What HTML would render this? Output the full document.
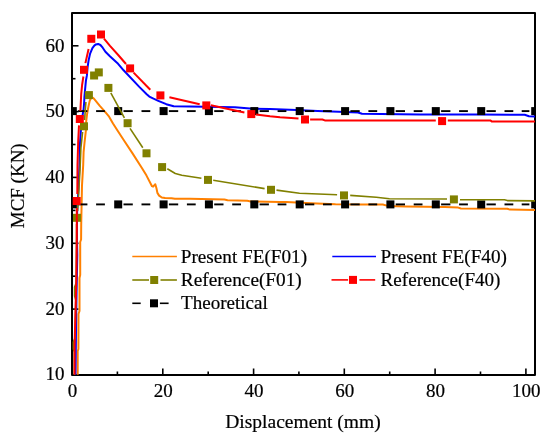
<!DOCTYPE html>
<html><head><meta charset="utf-8"><title>MCF vs Displacement</title>
<style>html,body{margin:0;padding:0;background:#fff;}svg{display:block;}</style>
</head><body>
<svg width="550" height="441" viewBox="0 0 550 441">
<defs><clipPath id="clipPlot"><rect x="72.0" y="13.0" width="463.0" height="362.0"/></clipPath></defs>
<rect width="550" height="441" fill="#fff"/>
<g>
<rect x="72.0" y="13.0" width="463.0" height="362.0" fill="none" stroke="#000" stroke-width="2" stroke-linejoin="round"/>
<line x1="72.0" y1="375.0" x2="72.0" y2="368.5" stroke="#000" stroke-width="1.6"/>
<line x1="117.4" y1="375.0" x2="117.4" y2="371.5" stroke="#000" stroke-width="1.6"/>
<line x1="162.8" y1="375.0" x2="162.8" y2="368.5" stroke="#000" stroke-width="1.6"/>
<line x1="208.2" y1="375.0" x2="208.2" y2="371.5" stroke="#000" stroke-width="1.6"/>
<line x1="253.6" y1="375.0" x2="253.6" y2="368.5" stroke="#000" stroke-width="1.6"/>
<line x1="298.9" y1="375.0" x2="298.9" y2="371.5" stroke="#000" stroke-width="1.6"/>
<line x1="344.3" y1="375.0" x2="344.3" y2="368.5" stroke="#000" stroke-width="1.6"/>
<line x1="389.7" y1="375.0" x2="389.7" y2="371.5" stroke="#000" stroke-width="1.6"/>
<line x1="435.1" y1="375.0" x2="435.1" y2="368.5" stroke="#000" stroke-width="1.6"/>
<line x1="480.5" y1="375.0" x2="480.5" y2="371.5" stroke="#000" stroke-width="1.6"/>
<line x1="525.9" y1="375.0" x2="525.9" y2="368.5" stroke="#000" stroke-width="1.6"/>
<line x1="72.0" y1="375.0" x2="78.5" y2="375.0" stroke="#000" stroke-width="1.6"/>
<line x1="72.0" y1="342.1" x2="75.5" y2="342.1" stroke="#000" stroke-width="1.6"/>
<line x1="72.0" y1="309.1" x2="78.5" y2="309.1" stroke="#000" stroke-width="1.6"/>
<line x1="72.0" y1="276.2" x2="75.5" y2="276.2" stroke="#000" stroke-width="1.6"/>
<line x1="72.0" y1="243.3" x2="78.5" y2="243.3" stroke="#000" stroke-width="1.6"/>
<line x1="72.0" y1="210.4" x2="75.5" y2="210.4" stroke="#000" stroke-width="1.6"/>
<line x1="72.0" y1="177.4" x2="78.5" y2="177.4" stroke="#000" stroke-width="1.6"/>
<line x1="72.0" y1="144.5" x2="75.5" y2="144.5" stroke="#000" stroke-width="1.6"/>
<line x1="72.0" y1="111.6" x2="78.5" y2="111.6" stroke="#000" stroke-width="1.6"/>
<line x1="72.0" y1="78.7" x2="75.5" y2="78.7" stroke="#000" stroke-width="1.6"/>
<line x1="72.0" y1="45.8" x2="78.5" y2="45.8" stroke="#000" stroke-width="1.6"/>
</g>
<g clip-path="url(#clipPlot)">
<polyline points="77.7,374.7 77.7,351.0 78.4,349.0 78.5,314.0 79.5,311.0 79.5,278.0 80.2,275.0 80.2,242.0 81.1,239.5 81.2,225.0 81.4,215.0 82.0,185.4 83.2,165.0 83.6,152.2 84.5,143.0 85.9,130.4 86.2,121.3 87.1,114.0 88.4,106.8 89.8,100.4 91.2,98.0 92.5,97.6 93.9,98.6 99.8,105.9 104.5,111.1 109.1,116.7 113.0,123.5 117.0,129.8 123.2,139.2 132.7,153.6 142.2,168.5 146.5,175.6 152.0,186.2 153.1,186.7 155.3,184.2 156.4,188.0 157.4,192.9 159.1,195.6 161.8,197.5 165.1,198.1 171.6,198.3 174.9,198.7 190.0,198.7 224.4,199.5 227.6,200.3 247.3,200.8 250.6,201.4 280.0,201.9 286.4,202.1 310.9,203.2 335.5,204.2 360.0,204.5 382.8,204.5 387.7,205.9 405.7,206.5 445.0,207.0 458.2,207.6 460.9,208.5 507.3,208.7 510.0,209.6 535.0,210.0" fill="none" stroke="#FF8000" stroke-width="2.0" stroke-linejoin="round" stroke-linecap="butt" />
<polyline points="75.5,374.7 76.2,315.0 76.6,290.0 77.3,255.0 77.0,240.0 77.0,215.0 78.4,190.0 79.5,165.0 80.0,143.0 80.9,130.4 82.0,121.0 82.7,114.5 83.6,109.5 84.2,101.8 84.4,97.0 85.0,90.3 85.9,80.8 86.9,75.4 87.6,67.2 88.6,60.4 90.1,53.6 92.4,48.2 94.3,45.6 95.9,44.4 98.1,43.9 100.4,45.0 102.7,47.7 105.4,51.8 109.9,56.2 118.1,63.8 123.6,70.3 139.3,86.9 146.7,94.2 149.3,96.6 153.5,98.7 158.3,100.8 166.3,104.2 173.7,106.3 190.0,106.6 235.0,107.2 250.0,108.6 270.0,108.9 296.2,110.1 317.5,110.9 338.7,111.7 358.0,112.5 362.0,113.8 420.0,114.4 480.0,114.6 524.7,114.8 529.0,116.3 535.0,116.5" fill="none" stroke="#0000FF" stroke-width="2.0" stroke-linejoin="round" stroke-linecap="butt" />
<line x1="78.1" y1="111.1" x2="87.4" y2="111.1" stroke="#000000" stroke-width="1.9"/>
<line x1="96.1" y1="111.1" x2="104.9" y2="111.1" stroke="#000000" stroke-width="1.9"/>
<line x1="123.5" y1="111.1" x2="132.8" y2="111.1" stroke="#000000" stroke-width="1.9"/>
<line x1="141.5" y1="111.1" x2="150.3" y2="111.1" stroke="#000000" stroke-width="1.9"/>
<line x1="168.9" y1="111.1" x2="178.2" y2="111.1" stroke="#000000" stroke-width="1.9"/>
<line x1="186.9" y1="111.1" x2="195.7" y2="111.1" stroke="#000000" stroke-width="1.9"/>
<line x1="214.2" y1="111.1" x2="223.5" y2="111.1" stroke="#000000" stroke-width="1.9"/>
<line x1="232.2" y1="111.1" x2="241.0" y2="111.1" stroke="#000000" stroke-width="1.9"/>
<line x1="259.6" y1="111.1" x2="268.9" y2="111.1" stroke="#000000" stroke-width="1.9"/>
<line x1="277.6" y1="111.1" x2="286.4" y2="111.1" stroke="#000000" stroke-width="1.9"/>
<line x1="305.0" y1="111.1" x2="314.3" y2="111.1" stroke="#000000" stroke-width="1.9"/>
<line x1="323.0" y1="111.1" x2="331.8" y2="111.1" stroke="#000000" stroke-width="1.9"/>
<line x1="350.4" y1="111.1" x2="359.7" y2="111.1" stroke="#000000" stroke-width="1.9"/>
<line x1="368.4" y1="111.1" x2="377.2" y2="111.1" stroke="#000000" stroke-width="1.9"/>
<line x1="395.7" y1="111.1" x2="405.0" y2="111.1" stroke="#000000" stroke-width="1.9"/>
<line x1="413.7" y1="111.1" x2="422.5" y2="111.1" stroke="#000000" stroke-width="1.9"/>
<line x1="441.1" y1="111.1" x2="450.4" y2="111.1" stroke="#000000" stroke-width="1.9"/>
<line x1="459.1" y1="111.1" x2="467.9" y2="111.1" stroke="#000000" stroke-width="1.9"/>
<line x1="486.5" y1="111.1" x2="495.8" y2="111.1" stroke="#000000" stroke-width="1.9"/>
<line x1="504.5" y1="111.1" x2="513.3" y2="111.1" stroke="#000000" stroke-width="1.9"/>
<line x1="521.7" y1="111.1" x2="529.4" y2="111.1" stroke="#000000" stroke-width="1.9"/>
<rect x="68.8" y="107.1" width="8.0" height="8.0" fill="#000000"/>
<rect x="114.2" y="107.1" width="8.0" height="8.0" fill="#000000"/>
<rect x="159.6" y="107.1" width="8.0" height="8.0" fill="#000000"/>
<rect x="204.9" y="107.1" width="8.0" height="8.0" fill="#000000"/>
<rect x="250.3" y="107.1" width="8.0" height="8.0" fill="#000000"/>
<rect x="295.7" y="107.1" width="8.0" height="8.0" fill="#000000"/>
<rect x="341.1" y="107.1" width="8.0" height="8.0" fill="#000000"/>
<rect x="386.4" y="107.1" width="8.0" height="8.0" fill="#000000"/>
<rect x="431.8" y="107.1" width="8.0" height="8.0" fill="#000000"/>
<rect x="477.2" y="107.1" width="8.0" height="8.0" fill="#000000"/>
<rect x="531.2" y="107.1" width="8.0" height="8.0" fill="#000000"/>
<line x1="78.1" y1="204.4" x2="87.4" y2="204.4" stroke="#000000" stroke-width="1.9"/>
<line x1="96.1" y1="204.4" x2="104.9" y2="204.4" stroke="#000000" stroke-width="1.9"/>
<line x1="123.5" y1="204.4" x2="132.8" y2="204.4" stroke="#000000" stroke-width="1.9"/>
<line x1="141.5" y1="204.4" x2="150.3" y2="204.4" stroke="#000000" stroke-width="1.9"/>
<line x1="168.9" y1="204.4" x2="178.2" y2="204.4" stroke="#000000" stroke-width="1.9"/>
<line x1="186.9" y1="204.4" x2="195.7" y2="204.4" stroke="#000000" stroke-width="1.9"/>
<line x1="214.2" y1="204.4" x2="223.5" y2="204.4" stroke="#000000" stroke-width="1.9"/>
<line x1="232.2" y1="204.4" x2="241.0" y2="204.4" stroke="#000000" stroke-width="1.9"/>
<line x1="259.6" y1="204.4" x2="268.9" y2="204.4" stroke="#000000" stroke-width="1.9"/>
<line x1="277.6" y1="204.4" x2="286.4" y2="204.4" stroke="#000000" stroke-width="1.9"/>
<line x1="305.0" y1="204.4" x2="314.3" y2="204.4" stroke="#000000" stroke-width="1.9"/>
<line x1="323.0" y1="204.4" x2="331.8" y2="204.4" stroke="#000000" stroke-width="1.9"/>
<line x1="350.4" y1="204.4" x2="359.7" y2="204.4" stroke="#000000" stroke-width="1.9"/>
<line x1="368.4" y1="204.4" x2="377.2" y2="204.4" stroke="#000000" stroke-width="1.9"/>
<line x1="395.7" y1="204.4" x2="405.0" y2="204.4" stroke="#000000" stroke-width="1.9"/>
<line x1="413.7" y1="204.4" x2="422.5" y2="204.4" stroke="#000000" stroke-width="1.9"/>
<line x1="441.1" y1="204.4" x2="450.4" y2="204.4" stroke="#000000" stroke-width="1.9"/>
<line x1="459.1" y1="204.4" x2="467.9" y2="204.4" stroke="#000000" stroke-width="1.9"/>
<line x1="486.5" y1="204.4" x2="495.8" y2="204.4" stroke="#000000" stroke-width="1.9"/>
<line x1="504.5" y1="204.4" x2="513.3" y2="204.4" stroke="#000000" stroke-width="1.9"/>
<line x1="521.7" y1="204.4" x2="529.4" y2="204.4" stroke="#000000" stroke-width="1.9"/>
<rect x="68.8" y="200.4" width="8.0" height="8.0" fill="#000000"/>
<rect x="114.2" y="200.4" width="8.0" height="8.0" fill="#000000"/>
<rect x="159.6" y="200.4" width="8.0" height="8.0" fill="#000000"/>
<rect x="204.9" y="200.4" width="8.0" height="8.0" fill="#000000"/>
<rect x="250.3" y="200.4" width="8.0" height="8.0" fill="#000000"/>
<rect x="295.7" y="200.4" width="8.0" height="8.0" fill="#000000"/>
<rect x="341.1" y="200.4" width="8.0" height="8.0" fill="#000000"/>
<rect x="386.4" y="200.4" width="8.0" height="8.0" fill="#000000"/>
<rect x="431.8" y="200.4" width="8.0" height="8.0" fill="#000000"/>
<rect x="477.2" y="200.4" width="8.0" height="8.0" fill="#000000"/>
<rect x="531.2" y="200.4" width="8.0" height="8.0" fill="#000000"/>
<polyline points="74.3,374.7 74.3,352.0 73.4,349.0 73.4,342.0 75.0,338.0 75.8,300.0 74.6,296.0 74.6,287.0 76.2,283.0 76.6,224.0" fill="none" stroke="#808000" stroke-width="1.6" stroke-linejoin="round" stroke-linecap="butt" />
<polyline points="77.6,211.0 80.0,170.0 80.9,148.0 82.6,132.0" fill="none" stroke="#808000" stroke-width="1.6" stroke-linejoin="round" stroke-linecap="butt" />
<polyline points="84.6,120.0 85.9,102.0" fill="none" stroke="#808000" stroke-width="1.6" stroke-linejoin="round" stroke-linecap="butt" />
<polyline points="110.8,92.9 124.4,117.9" fill="none" stroke="#808000" stroke-width="1.6" stroke-linejoin="round" stroke-linecap="butt" />
<polyline points="130.0,128.4 142.8,147.7" fill="none" stroke="#808000" stroke-width="1.6" stroke-linejoin="round" stroke-linecap="butt" />
<polyline points="167.3,168.8 175.3,173.5 181.8,175.2 201.4,178.2" fill="none" stroke="#808000" stroke-width="1.6" stroke-linejoin="round" stroke-linecap="butt" />
<polyline points="213.2,180.3 264.6,188.6" fill="none" stroke="#808000" stroke-width="1.6" stroke-linejoin="round" stroke-linecap="butt" />
<polyline points="276.5,190.1 299.5,193.2 337.1,194.8" fill="none" stroke="#808000" stroke-width="1.6" stroke-linejoin="round" stroke-linecap="butt" />
<polyline points="350.2,195.4 376.3,197.2 389.4,198.8 447.0,199.0" fill="none" stroke="#808000" stroke-width="1.6" stroke-linejoin="round" stroke-linecap="butt" />
<polyline points="460.0,199.7 504.5,199.8 507.3,200.6 535.0,200.9" fill="none" stroke="#808000" stroke-width="1.6" stroke-linejoin="round" stroke-linecap="butt" />
<rect x="73.0" y="213.8" width="8.0" height="8.0" fill="#808000"/>
<rect x="80.0" y="122.3" width="8.0" height="8.0" fill="#808000"/>
<rect x="84.9" y="91.1" width="8.0" height="8.0" fill="#808000"/>
<rect x="90.1" y="71.5" width="8.0" height="8.0" fill="#808000"/>
<rect x="94.8" y="68.4" width="8.0" height="8.0" fill="#808000"/>
<rect x="104.4" y="83.9" width="8.0" height="8.0" fill="#808000"/>
<rect x="123.6" y="119.2" width="8.0" height="8.0" fill="#808000"/>
<rect x="142.5" y="149.3" width="8.0" height="8.0" fill="#808000"/>
<rect x="158.1" y="163.1" width="8.0" height="8.0" fill="#808000"/>
<rect x="204.0" y="175.9" width="8.0" height="8.0" fill="#808000"/>
<rect x="267.0" y="185.8" width="8.0" height="8.0" fill="#808000"/>
<rect x="340.0" y="191.4" width="8.0" height="8.0" fill="#808000"/>
<rect x="449.9" y="195.4" width="8.0" height="8.0" fill="#808000"/>
<polyline points="74.5,374.7 74.6,345.0 75.0,330.0 76.3,280.0 76.8,240.0 76.8,208.0" fill="none" stroke="#FF0000" stroke-width="2.0" stroke-linejoin="round" stroke-linecap="butt" />
<polyline points="77.3,194.0 77.5,165.0 78.2,141.3 79.0,125.4" fill="none" stroke="#FF0000" stroke-width="2.0" stroke-linejoin="round" stroke-linecap="butt" />
<polyline points="80.4,111.0 81.2,94.1 82.1,85.0 83.4,76.5" fill="none" stroke="#FF0000" stroke-width="2.0" stroke-linejoin="round" stroke-linecap="butt" />
<polyline points="85.4,63.1 88.6,49.0" fill="none" stroke="#FF0000" stroke-width="2.0" stroke-linejoin="round" stroke-linecap="butt" />
<polyline points="104.0,38.6 110.0,45.9 118.2,55.0 126.0,64.0" fill="none" stroke="#FF0000" stroke-width="2.0" stroke-linejoin="round" stroke-linecap="butt" />
<polyline points="133.6,72.6 150.3,89.7" fill="none" stroke="#FF0000" stroke-width="2.0" stroke-linejoin="round" stroke-linecap="butt" />
<polyline points="169.4,97.3 199.7,104.2" fill="none" stroke="#FF0000" stroke-width="2.0" stroke-linejoin="round" stroke-linecap="butt" />
<polyline points="210.9,105.3 244.4,112.5" fill="none" stroke="#FF0000" stroke-width="2.0" stroke-linejoin="round" stroke-linecap="butt" />
<polyline points="256.0,114.5 270.0,116.3 280.0,117.3 298.5,118.6" fill="none" stroke="#FF0000" stroke-width="2.0" stroke-linejoin="round" stroke-linecap="butt" />
<polyline points="310.1,119.5 322.4,119.5 324.8,120.4 360.0,120.4 435.8,120.5" fill="none" stroke="#FF0000" stroke-width="2.0" stroke-linejoin="round" stroke-linecap="butt" />
<polyline points="447.8,120.5 490.3,120.4 492.0,121.6 535.0,121.6" fill="none" stroke="#FF0000" stroke-width="2.0" stroke-linejoin="round" stroke-linecap="butt" />
<rect x="72.7" y="197.0" width="8.0" height="8.0" fill="#FF0000"/>
<rect x="75.8" y="115.0" width="8.0" height="8.0" fill="#FF0000"/>
<rect x="80.0" y="65.8" width="8.0" height="8.0" fill="#FF0000"/>
<rect x="87.3" y="34.8" width="8.0" height="8.0" fill="#FF0000"/>
<rect x="97.0" y="30.5" width="8.0" height="8.0" fill="#FF0000"/>
<rect x="126.1" y="64.4" width="8.0" height="8.0" fill="#FF0000"/>
<rect x="156.4" y="91.4" width="8.0" height="8.0" fill="#FF0000"/>
<rect x="202.3" y="101.4" width="8.0" height="8.0" fill="#FF0000"/>
<rect x="247.3" y="110.1" width="8.0" height="8.0" fill="#FF0000"/>
<rect x="301.0" y="115.5" width="8.0" height="8.0" fill="#FF0000"/>
<rect x="438.1" y="117.1" width="8.0" height="8.0" fill="#FF0000"/>
</g>
<g font-family="'Liberation Serif', 'Times New Roman', serif" font-size="19.5" fill="#000" stroke="#000" stroke-width="0.2">
<text x="72.4" y="396.8" text-anchor="middle" font-size="19">0</text>
<text x="163.2" y="396.8" text-anchor="middle" font-size="19">20</text>
<text x="254.0" y="396.8" text-anchor="middle" font-size="19">40</text>
<text x="344.7" y="396.8" text-anchor="middle" font-size="19">60</text>
<text x="435.5" y="396.8" text-anchor="middle" font-size="19">80</text>
<text x="526.3" y="396.8" text-anchor="middle" font-size="19">100</text>
<text x="64.4" y="380" text-anchor="end" font-size="19">10</text>
<text x="64.4" y="315" text-anchor="end" font-size="19">20</text>
<text x="64.4" y="249" text-anchor="end" font-size="19">30</text>
<text x="64.4" y="183" text-anchor="end" font-size="19">40</text>
<text x="64.4" y="117" text-anchor="end" font-size="19">50</text>
<text x="64.4" y="52" text-anchor="end" font-size="19">60</text>
<text x="303" y="427.8" text-anchor="middle">Displacement (mm)</text>
<text transform="translate(23.8,185.8) rotate(-90)" text-anchor="middle" textLength="84.9" lengthAdjust="spacingAndGlyphs">MCF (KN)</text>
<text x="180.8" y="263.3" textLength="126.3" lengthAdjust="spacingAndGlyphs">Present FE(F01)</text>
<text x="380.6" y="263.3" textLength="126.3" lengthAdjust="spacingAndGlyphs">Present FE(F40)</text>
<text x="180.8" y="286.2" textLength="121.0" lengthAdjust="spacingAndGlyphs">Reference(F01)</text>
<text x="380.6" y="286.2" textLength="119.9" lengthAdjust="spacingAndGlyphs">Reference(F40)</text>
<text x="181.1" y="309.3" textLength="86.7" lengthAdjust="spacingAndGlyphs">Theoretical</text>
</g>
<line x1="132.3" y1="256.5" x2="176.9" y2="256.5" stroke="#FF8000" stroke-width="1.6"/>
<line x1="332.3" y1="256.5" x2="376.0" y2="256.5" stroke="#0000FF" stroke-width="1.6"/>
<line x1="132.3" y1="280.0" x2="149.0" y2="280.0" stroke="#808000" stroke-width="1.6"/>
<line x1="160.5" y1="280.0" x2="176.9" y2="280.0" stroke="#808000" stroke-width="1.6"/>
<rect x="150.2" y="276.0" width="8" height="8" fill="#808000"/>
<line x1="331.5" y1="279.9" x2="348.1" y2="279.9" stroke="#FF0000" stroke-width="1.6"/>
<line x1="359.4" y1="279.9" x2="375.2" y2="279.9" stroke="#FF0000" stroke-width="1.6"/>
<rect x="349.0" y="275.9" width="8" height="8" fill="#FF0000"/>
<line x1="132.3" y1="303.3" x2="140.7" y2="303.3" stroke="#000" stroke-width="1.6"/>
<line x1="159.9" y1="303.3" x2="168.6" y2="303.3" stroke="#000" stroke-width="1.6"/>
<rect x="150.0" y="299.3" width="8" height="8" fill="#000"/>
</svg>
</body></html>
